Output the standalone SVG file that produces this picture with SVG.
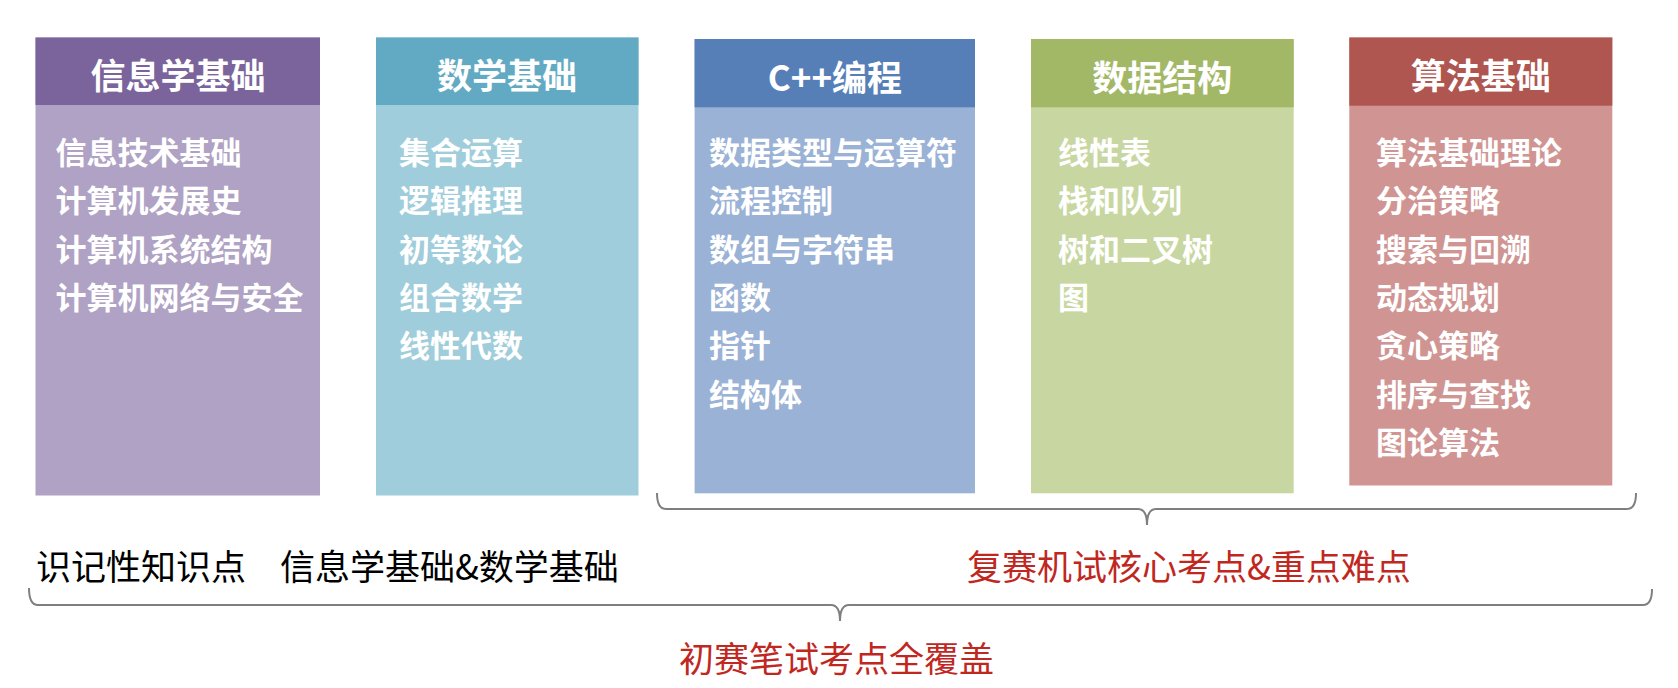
<svg xmlns="http://www.w3.org/2000/svg" width="1678" height="688" viewBox="0 0 1678 688">
<style>
.hd{font-family:"Noto Sans CJK SC","Liberation Sans",sans-serif;font-size:35px;font-weight:bold;fill:#fff;text-anchor:middle}
.it{font-family:"Noto Sans CJK SC","Liberation Sans",sans-serif;font-size:31px;font-weight:bold;fill:#fff}
.lb{font-family:"Noto Sans CJK SC","Liberation Sans",sans-serif;font-size:35px;fill:#000}
.rd{font-family:"Noto Sans CJK SC","Liberation Sans",sans-serif;font-size:35px;fill:#C0281F}
.br{fill:none;stroke:#7f7f7f;stroke-width:2}
</style>
<rect width="1678" height="688" fill="#fff"/>
<g id="node-info">
<rect x="35.5" y="37.5" width="284.5" height="458" fill="#B0A2C4"/>
<rect x="35.5" y="37.5" width="284.5" height="67.5" fill="#7B649C"/>
<text class="hd" x="178" y="89">信息学基础</text>
<text class="it"><tspan x="55.5" y="164">信息技术基础</tspan><tspan x="55.5" y="212.3">计算机发展史</tspan><tspan x="55.5" y="260.6">计算机系统结构</tspan><tspan x="55.5" y="309">计算机网络与安全</tspan></text>
</g>
<g id="node-math">
<rect x="376" y="37.5" width="262.5" height="458" fill="#A0CDDB"/>
<rect x="376" y="37.5" width="262.5" height="67.5" fill="#62AAC3"/>
<text class="hd" x="507" y="89">数学基础</text>
<text class="it"><tspan x="399" y="164">集合运算</tspan><tspan x="399" y="212.3">逻辑推理</tspan><tspan x="399" y="260.6">初等数论</tspan><tspan x="399" y="309">组合数学</tspan><tspan x="399" y="357.3">线性代数</tspan></text>
</g>
<g id="node-cpp">
<rect x="694.6" y="39" width="280.4" height="454.3" fill="#9AB2D5"/>
<rect x="694.6" y="39" width="280.4" height="68.3" fill="#577FB7"/>
<text class="hd" x="835" y="90.5">C++编程</text>
<text class="it"><tspan x="709" y="164">数据类型与运算符</tspan><tspan x="709" y="212.3">流程控制</tspan><tspan x="709" y="260.6">数组与字符串</tspan><tspan x="709" y="309">函数</tspan><tspan x="709" y="357.3">指针</tspan><tspan x="709" y="405.6">结构体</tspan></text>
</g>
<g id="node-ds">
<rect x="1031" y="39" width="262.7" height="454.3" fill="#C8D7A1"/>
<rect x="1031" y="39" width="262.7" height="68.3" fill="#A3B867"/>
<text class="hd" x="1162.3" y="90.5">数据结构</text>
<text class="it"><tspan x="1058" y="164">线性表</tspan><tspan x="1058" y="212.3">栈和队列</tspan><tspan x="1058" y="260.6">树和二叉树</tspan><tspan x="1058" y="309">图</tspan></text>
</g>
<g id="node-algo">
<rect x="1349.3" y="37.5" width="263" height="448" fill="#D09593"/>
<rect x="1349.3" y="37.5" width="263" height="68.2" fill="#B05650"/>
<text class="hd" x="1480.8" y="89">算法基础</text>
<text class="it"><tspan x="1376" y="164">算法基础理论</tspan><tspan x="1376" y="212.3">分治策略</tspan><tspan x="1376" y="260.6">搜索与回溯</tspan><tspan x="1376" y="309">动态规划</tspan><tspan x="1376" y="357.3">贪心策略</tspan><tspan x="1376" y="405.6">排序与查找</tspan><tspan x="1376" y="454">图论算法</tspan></text>
</g>
<g id="connectors">
<path class="br" d="M657,493 Q657,509 666,509 L1138,509 Q1147,509 1147,525 Q1147,509 1156,509 L1627,509 Q1636,509 1636,493"/>
<path class="br" d="M29,588 Q29,605 38,605 L831,605 Q840,605 840,621 Q840,605 849,605 L1643,605 Q1652,605 1652,589"/>
</g>
<g id="labels">
<text class="lb" x="36" y="580">识记性知识点</text>
<text class="lb" x="280" y="580">信息学基础&amp;数学基础</text>
<text class="rd" x="967" y="580">复赛机试核心考点&amp;重点难点</text>
<text class="rd" x="679" y="672">初赛笔试考点全覆盖</text>
</g>
</svg>
